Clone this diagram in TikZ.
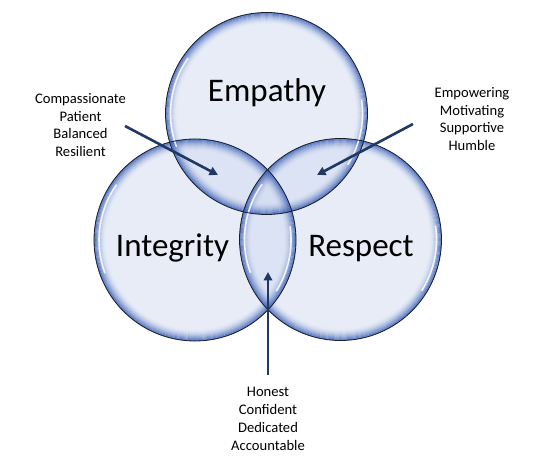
\documentclass[tikz,border=0pt]{standalone}
\usepackage{fontspec}
\setmainfont{Carlito}
\usetikzlibrary{arrows.meta}
\definecolor{bubblefill}{RGB}{208,218,240}
\definecolor{rimblue}{RGB}{62,98,182}
\definecolor{arrownavy}{RGB}{31,56,100}
\definecolor{outlinecol}{RGB}{25,30,45}
\begin{document}
\begin{tikzpicture}[x=1pt,y=1pt,
  bigword/.style={font=\fontsize{33}{40}\selectfont, inner sep=0pt, anchor=base},
  smallwords/.style={font=\fontsize{14.6}{17.8}\selectfont, align=center, inner sep=0pt},
  pointer/.style={draw=arrownavy, line width=2.6pt, -{Triangle[length=8.5pt,width=8.5pt]}},
  bubblebody/.style={fill=bubblefill, fill opacity=0.5},
  rimring/.style={draw=rimblue, line width=1.05pt},
  gloss/.style={draw=white, line width=1.6pt, draw opacity=0.85, line cap=round},
  bubbleedge/.style={draw=outlinecol, line width=0.8pt}
]
\useasboundingbox (0,0) rectangle (556,465);
\coordinate (Ec) at (266.5,351.5);
\coordinate (Ic) at (195,225);
\coordinate (Rc) at (340.5,225.5);
\def\R{101}
% bodies
\foreach \c in {Ec,Ic,Rc} \fill[bubblebody] (\c) circle[radius=\R];
% rims
\foreach \c in {Ec,Ic,Rc}{
  \foreach \i in {0,...,11}{
    \pgfmathsetmacro{\op}{0.85*((12-\i)/12)^2}
    \draw[rimring, draw opacity=\op] (\c) circle[radius=\R-0.5-\i];
  }
}
% gloss highlights
\foreach \c in {Ec,Ic,Rc}{
  \draw[gloss] (\c) ++(145:96) arc[start angle=145, end angle=200, radius=96];
  \draw[gloss] (\c) ++(-32:96) arc[start angle=-32, end angle=8, radius=96];
}
% outlines
\foreach \c in {Ec,Ic,Rc} \draw[bubbleedge] (\c) circle[radius=\R];
% labels
\node[bigword] (emp) at (267,363) {Empathy};
\node[bigword] (int) at (172.5,208) {Integrity};
\node[bigword] (res) at (361,208) {Respect};
\node[smallwords] (lefttxt) at (80.5,340) {Compassionate\\Patient\\Balanced\\Resilient};
\node[smallwords] (righttxt) at (472,346) {Empowering\\Motivating\\Supportive\\Humble};
\node[smallwords] (bottxt) at (268,46) {Honest\\Confident\\Dedicated\\Accountable};
% pointers
\coordinate (la) at (125,339); \coordinate (lb) at (218,290);
\coordinate (ra) at (413,341); \coordinate (rb) at (317,290);
\coordinate (ba) at (268,90);  \coordinate (bb) at (268,193);
\draw[pointer] (la) -- (lb);
\draw[pointer] (ra) -- (rb);
\draw[pointer] (ba) -- (bb);
\end{tikzpicture}
\end{document}
